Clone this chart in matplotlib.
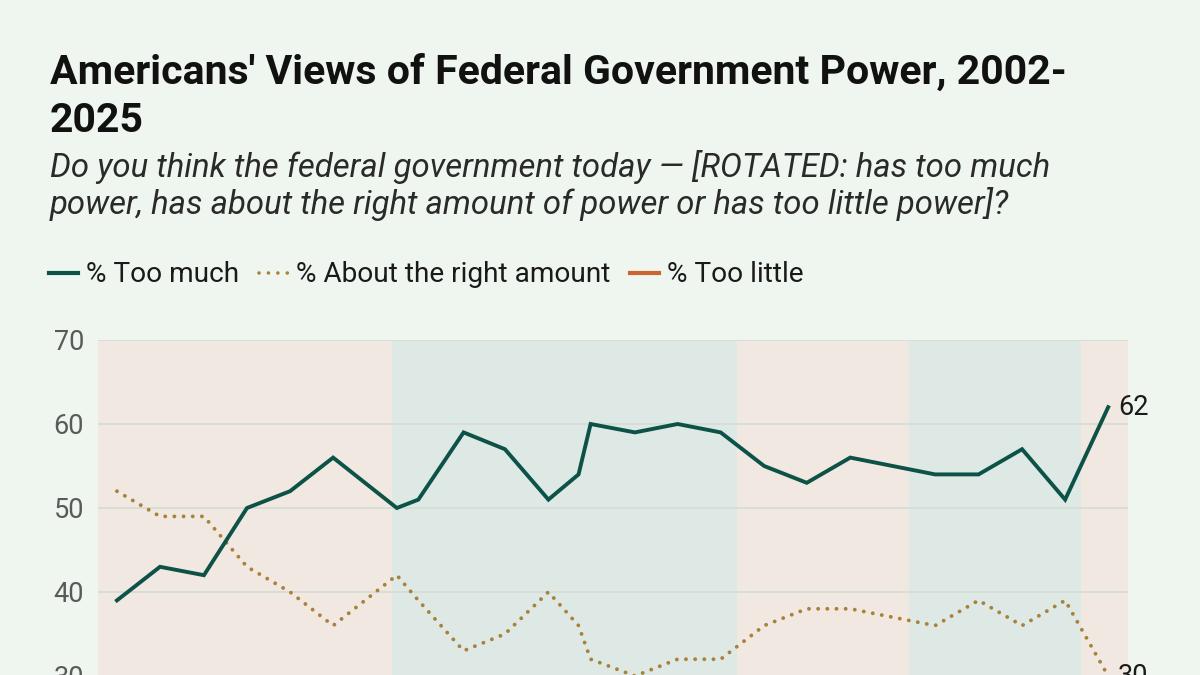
import matplotlib
matplotlib.use("Agg")
import matplotlib.pyplot as plt
from matplotlib.lines import Line2D

# ---------------- data ----------------
poll_dates = [2002.66, 2003.66, 2004.68, 2005.68, 2006.68, 2007.68, 2009.16,
              2009.66, 2010.71, 2011.67, 2012.68, 2013.38, 2013.66, 2014.69,
              2015.68, 2016.68, 2017.69, 2018.68, 2019.69, 2021.66, 2022.67,
              2023.68, 2024.68, 2025.68]
too_much = [39, 43, 42, 50, 52, 56, 50, 51, 59, 57, 51, 54, 60, 59, 60, 59,
            55, 53, 56, 54, 54, 57, 51, 62]
about_right = [52, 49, 49, 43, 40, 36, 42, 39, 33, 35, 40, 36, 32, 30, 32, 32,
               36, 38, 38, 36, 39, 36, 39, 30]
# below the visible crop of the reference -> estimated
too_little = [8, 7, 8, 6, 7, 7, 7, 8, 7, 7, 8, 9, 8, 9, 7, 8, 8, 8, 7, 9, 8,
              6, 8, 7]

series_names = ["% Too much", "% About the right amount", "% Too little"]

# administrations (start, end, party)
terms_start = [2001.05, 2009.05, 2017.05, 2021.05, 2025.05]
terms_end = [2009.05, 2017.05, 2021.05, 2025.05, 2029.05]
terms_party = ["R", "D", "R", "D", "R"]

y_ticks = [0, 10, 20, 30, 40, 50, 60, 70]

title_lines = ["Americans' Views of Federal Government Power, 2002-", "2025"]
subtitle_lines = ["Do you think the federal government today \u2014 [ROTATED: has too much",
                  "power, has about the right amount of power or has too little power]?"]

# ---------------- style ----------------
BG = "#EFF6EF"
C_MUCH = "#0C5247"
C_RIGHT = "#A8823A"
C_LITTLE = "#C9652F"
BAND = {"R": "#F1E8E1", "D": "#DEE8E4"}
GRID = "#D7DDD7"

plt.rcParams["font.family"] = ["Roboto", "DejaVu Sans"]

W, H = 1200, 675
fig = plt.figure(figsize=(12, 6.75), dpi=100, facecolor=BG)

# axes: 70 at y=340px, 8.4 px per unit, plot x from 98 to 1128 px
left_px, right_px, top_px = 98, 1128, 340
px_per_unit = 8.4
ymin, ymax = 0, 70
ax_h = (ymax - ymin) * px_per_unit
ax = fig.add_axes([left_px / W, 1 - (top_px + ax_h) / H,
                   (right_px - left_px) / W, ax_h / H])
ax.set_facecolor(BG)

for s, e, p in zip(terms_start, terms_end, terms_party):
    ax.axvspan(s, e, color=BAND[p], lw=0, zorder=0)

for t in y_ticks:
    ax.axhline(t, color=GRID, lw=1.4, zorder=1)

ax.plot(poll_dates, too_little, color=C_LITTLE, lw=2.8, solid_joinstyle="miter",
        zorder=3)
ax.plot(poll_dates, about_right, color=C_RIGHT, lw=2.8,
        linestyle=(0, (0.01, 2.35)), dash_capstyle="round", zorder=3)
ax.plot(poll_dates, too_much, color=C_MUCH, lw=2.8, solid_joinstyle="miter",
        zorder=4)

ax.set_xlim(2002.22, 2026.14)
ax.set_ylim(ymin, ymax)
ax.set_yticks(y_ticks)
ax.set_xticks([])
ax.tick_params(axis="y", length=0, pad=10, labelsize=19.5, labelcolor="#5A5A5A")
for sp in ax.spines.values():
    sp.set_visible(False)

# end labels
for vals in (too_much, about_right, too_little):
    ax.annotate(f"{vals[-1]}", xy=(poll_dates[-1], vals[-1]), xytext=(7, 0),
                textcoords="offset points", va="center", ha="left",
                fontsize=19.5, color="#1A1A1A", annotation_clip=False)

# titles
def fy(px):
    return 1 - px / H

fig.text(50 / W, fy(84), title_lines[0], fontsize=29.5, fontweight="bold",
         color="#111111", va="baseline", ha="left")
fig.text(50 / W, fy(132), title_lines[1], fontsize=29.5, fontweight="bold",
         color="#111111", va="baseline", ha="left")
fig.text(50 / W, fy(177), subtitle_lines[0], fontsize=23.7, style="italic",
         color="#2A2A2A", va="baseline", ha="left")
fig.text(50 / W, fy(214), subtitle_lines[1], fontsize=23.7, style="italic",
         color="#2A2A2A", va="baseline", ha="left")

# legend
handles = [
    Line2D([], [], color=C_MUCH, lw=3.0),
    Line2D([], [], color=C_RIGHT, lw=2.6, linestyle=(0, (0.01, 2.6)),
           dash_capstyle="round"),
    Line2D([], [], color=C_LITTLE, lw=3.0),
]
fig.legend(handles, series_names, loc="center left",
           bbox_to_anchor=(24 / W, fy(275)), ncol=3, frameon=False,
           fontsize=20.2, handlelength=1.02, handletextpad=0.3,
           columnspacing=0.7, labelcolor="#1A1A1A")

fig.savefig("out.png", dpi=100, facecolor=BG)
